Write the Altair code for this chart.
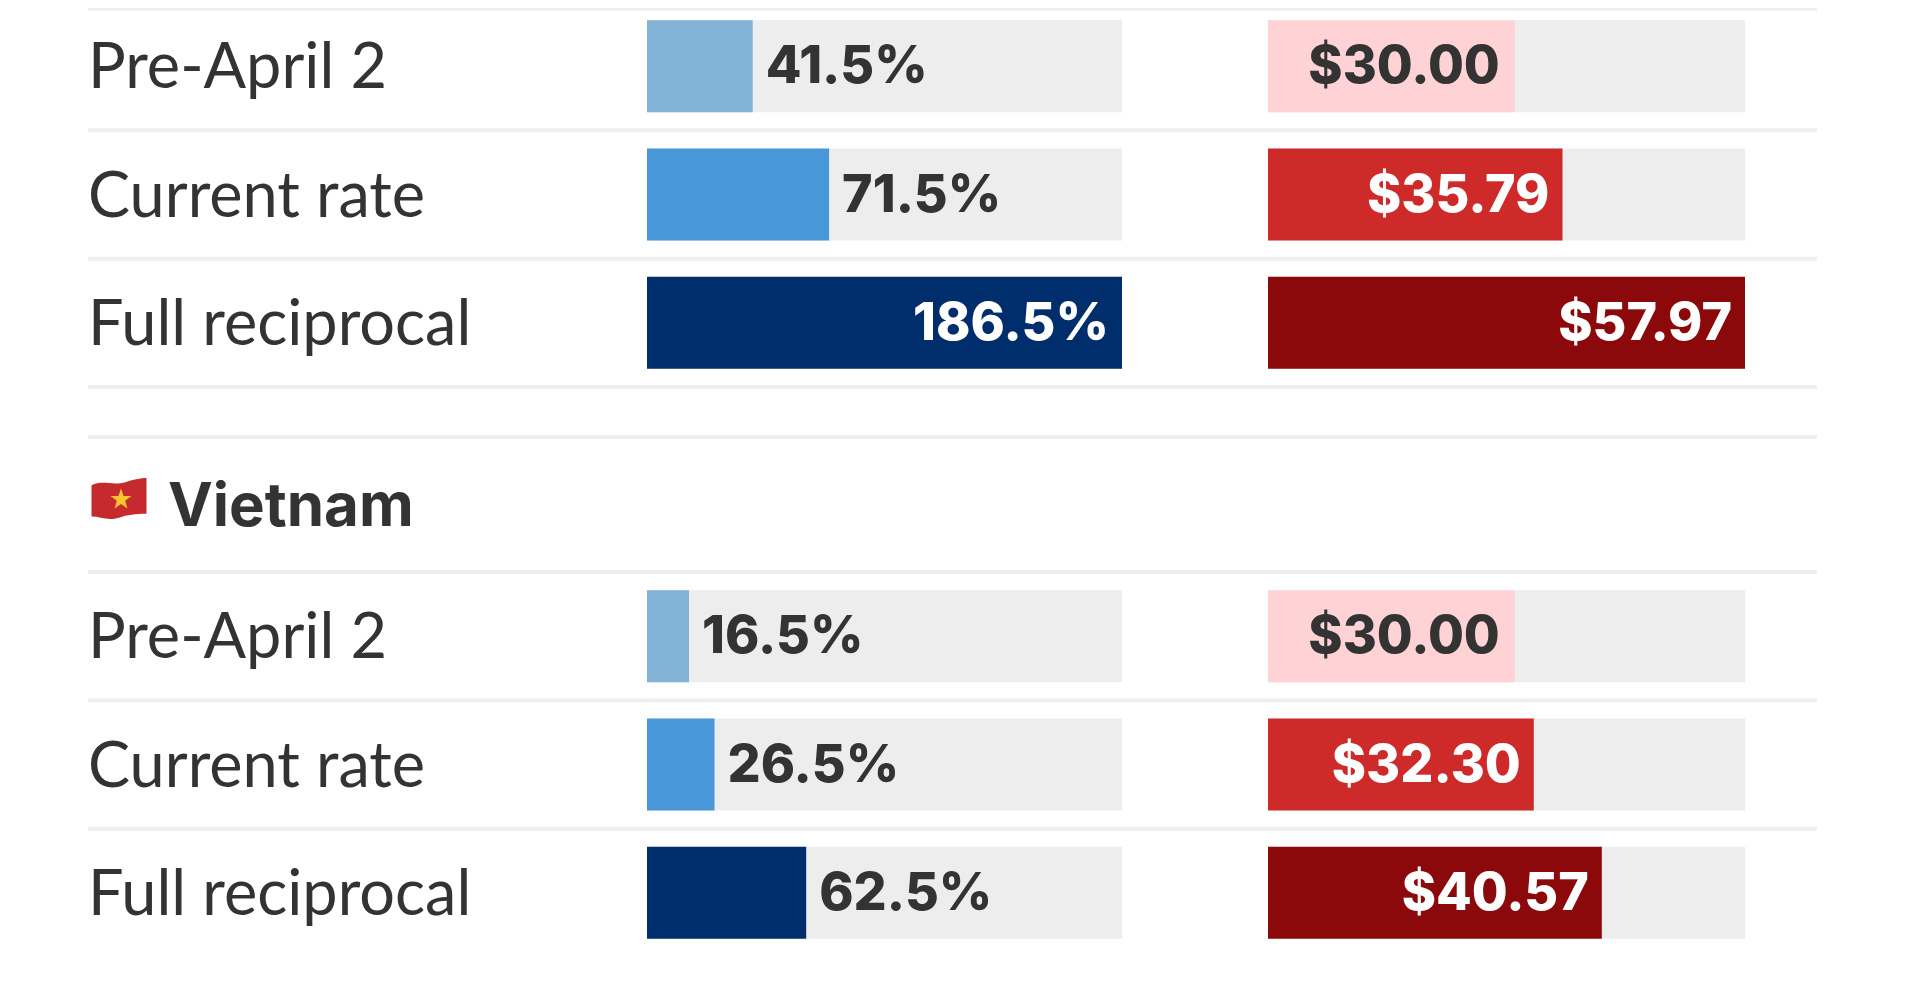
import altair as alt
import pandas as pd

rows = ["Pre-April 2", "Current rate", "Full reciprocal"]
tariff_top = [41.5, 71.5, 186.5]
price_top = [30.00, 35.79, 57.97]
tariff_vn = [16.5, 26.5, 62.5]
price_vn = [30.00, 32.30, 40.57]
header_vn = ["Vietnam"]

blues = ["#82b2d6", "#4898d9", "#002d6b"]
reds = ["#ffd3d5", "#cf2a2a", "#8c090b"]
TRACK = "#ededed"
LINE = "#eeeeee"
INK = "#333333"
FONT = "Lato"
VALUE_FONT = "Inter"
TW, TH = 1890, 960
BAR_H = 92
LEFT, RIGHT = 80, 1809
PCT_RANGE = [639, 1114]
USD_RANGE = [1260, 1737]
PCT_MAX = max(tariff_top + tariff_vn)
USD_MAX = max(price_top + price_vn)
TOP_RANGE = [-6, 379]
VN_RANGE = [564, 949]
HEAD_RANGE = [429, 564]

FLAG = ("M-1,-0.52 C-0.6,-0.72 -0.25,-0.5 0.2,-0.62 C0.5,-0.72 0.8,-0.78 1,-0.78 "
        "L1,0.52 C0.6,0.52 0.3,0.56 0,0.66 C-0.4,0.78 -0.7,0.62 -1,0.62 Z")
STAR = ("M0,-1 L0.235,-0.324 L0.951,-0.309 L0.38,0.124 L0.588,0.809 L0,0.4 "
        "L-0.588,0.809 L-0.38,0.124 L-0.951,-0.309 L-0.235,-0.324 Z")


def frame(tariff, price):
    return pd.DataFrame({
        "row": rows,
        "tariff": tariff,
        "price": price,
        "tariff_label": [f"{v}%" for v in tariff],
        "price_label": [f"${v:.2f}" for v in price],
        "tariff_track": [PCT_MAX] * 3,
        "price_track": [USD_MAX] * 3,
    })


def yband(rng, domain=rows, **kw):
    return alt.Y("row:N", scale=alt.Scale(domain=domain, range=rng), axis=None, title=None, **kw)


def xscale(field, metric):
    dom, rng = ([0, PCT_MAX], PCT_RANGE) if metric == "tariff" else ([0, USD_MAX], USD_RANGE)
    return alt.X(f"{field}:Q", scale=alt.Scale(domain=dom, range=rng, nice=False, zero=True),
                 axis=None, title=None)


def value_text(df, metric, rng, color, align, dx):
    return alt.Chart(df).mark_text(
        font=VALUE_FONT, fontSize=52, fontWeight=800, align=align, dx=dx, baseline="middle", dy=1,
        color=color,
    ).encode(x=xscale(metric, metric), y=yband(rng), text=f"{metric}_label:N")


def group(tariff, price, rng, bottom_rule):
    df = frame(tariff, price)
    out = []
    rule = alt.Chart(df).mark_rule(color=LINE, strokeWidth=4)
    out.append(rule.encode(x=alt.value(LEFT), x2=alt.value(RIGHT), y=yband(rng, bandPosition=0)))
    if bottom_rule:
        out.append(alt.Chart(df[df.row == rows[-1]]).mark_rule(color=LINE, strokeWidth=4).encode(
            x=alt.value(LEFT), x2=alt.value(RIGHT), y=yband(rng, bandPosition=1)))
    out.append(alt.Chart(df).mark_text(
        font=FONT, fontSize=63, fontWeight=400, align="left", baseline="middle", color=INK, dy=3,
    ).encode(x=alt.value(LEFT), y=yband(rng), text="row:N"))
    for metric, colors in (("tariff", blues), ("price", reds)):
        out.append(alt.Chart(df).mark_bar(size=BAR_H, color=TRACK).encode(
            x=xscale(f"{metric}_track", metric), y=yband(rng)))
        out.append(alt.Chart(df).mark_bar(size=BAR_H).encode(
            x=xscale(metric, metric), y=yband(rng),
            color=alt.Color("row:N", scale=alt.Scale(domain=rows, range=colors), legend=None)))
    # value labels: outside short tariff bars, inside everything else
    short = df[df.tariff < 100]
    full = df[df.tariff >= 100]
    out.append(value_text(short, "tariff", rng, INK, "left", 13))
    if len(full):
        out.append(value_text(full, "tariff", rng, "white", "right", -13))
    out.append(value_text(df[df.row == rows[0]], "price", rng, INK, "right", -15))
    out.append(value_text(df[df.row != rows[0]], "price", rng, "white", "right", -13))
    return out


layers = []
# top edge line: the first rule of the table, kept inside the drawable page
layers.append(alt.Chart(pd.DataFrame({"row": [rows[0]]})).mark_rule(color=LINE, strokeWidth=3).encode(
    x=alt.value(LEFT), x2=alt.value(RIGHT), y=alt.value(1)))
layers += group(tariff_top, price_top, TOP_RANGE, True)

head = pd.DataFrame({"row": header_vn})
layers.append(alt.Chart(head).mark_rule(color=LINE, strokeWidth=4).encode(
    x=alt.value(LEFT), x2=alt.value(RIGHT), y=yband(HEAD_RANGE, header_vn, bandPosition=0)))
layers.append(alt.Chart(head).mark_text(
    font=VALUE_FONT, fontSize=60, fontWeight=700, align="left", baseline="middle", color=INK, dy=3,
).encode(x=alt.value(160), y=yband(HEAD_RANGE, header_vn), text="row:N"))
layers.append(alt.Chart(head).mark_point(shape=FLAG, size=3025, filled=True, opacity=1,
                                         color="#c62a2f", strokeWidth=0, yOffset=-5).encode(
    x=alt.value(111), y=yband(HEAD_RANGE, header_vn)))
layers.append(alt.Chart(head).mark_point(shape=STAR, size=484, filled=True, opacity=1,
                                         color="#f8c62c", strokeWidth=0, yOffset=-5).encode(
    x=alt.value(113), y=yband(HEAD_RANGE, header_vn)))
layers += group(tariff_vn, price_vn, VN_RANGE, False)

chart = alt.layer(*layers).resolve_scale(
    x="independent", y="independent", color="independent"
).properties(
    width=TW, height=TH, padding=0, autosize=alt.AutoSizeParams(type="none"), background="white"
).configure_view(stroke=None)

chart.save("out.html", embed_options={"renderer": "svg", "actions": False})
